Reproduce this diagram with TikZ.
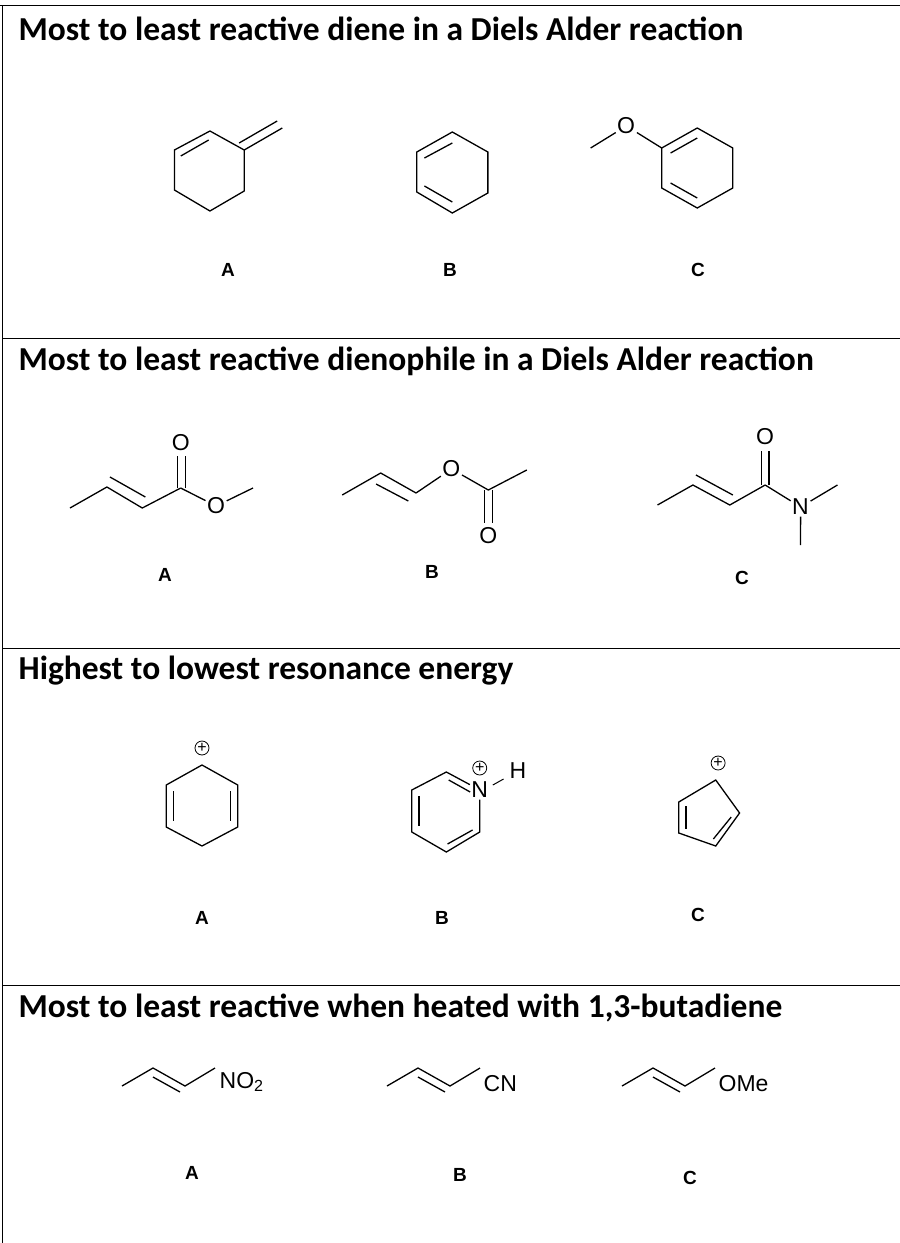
\documentclass[tikz,border=0pt]{standalone}
\usepackage{fontspec}
\setmainfont{Liberation Sans}
\newfontfamily\titlefont{Carlito}
\begin{document}
\begin{tikzpicture}[x=1pt,y=-1pt,line width=1.3pt,
  ttl/.style={anchor=west,font=\titlefont\bfseries\fontsize{33.5}{36}\selectfont,inner sep=0},
  lab/.style={font=\bfseries\fontsize{19}{22}\selectfont,inner sep=0},
  atom/.style={font=\fontsize{23}{26}\selectfont,inner sep=1pt},
  chg/.style={circle,draw,line width=0.8pt,inner sep=0.3pt,font=\fontsize{16}{16}\selectfont}]
\useasboundingbox (0,0) rectangle (900,1243);
\draw[line width=0.8pt] (0,5) -- (900,5);
\draw[line width=0.8pt] (2,5) -- (2,1243);
\foreach \y in {338,648,985} \draw[line width=0.8pt] (2,\y) -- (900,\y);
\node[ttl] (t1) at (18,29) {Most to least reactive diene in a Diels Alder reaction};
\node[ttl] (t2) at (18,361) {Most to least reactive dienophile in a Diels Alder reaction};
\node[ttl] (t3) at (18,671) {Highest to lowest resonance energy};
\node[ttl] (t4) at (18,1008) {Most to least reactive when heated with 1,3-butadiene};
\begin{scope}[xshift=-34.97pt,xscale=1.269]
% diene A
\draw (193,131)--(220,150)--(220,191)--(193,211)--(165,190)--(165,150)--cycle;
\draw (170,156)--(192,140);
\draw (220,150)--(250,128); \draw (216,143)--(246,121);
% diene B
\draw (384,132)--(412,152)--(412,193)--(384,213)--(356,192)--(356,152)--cycle;
\draw (362,158)--(384,143); \draw (362,186)--(384,202);
% diene C
\draw (577,128)--(605,148)--(605,188)--(577,208)--(549,188)--(549,148)--cycle;
\draw (556,153)--(577,138); \draw (556,183)--(577,198);
\node[atom] (o1) at (521,126) {O};
\draw (549,148)--(o1); \draw (o1)--(493,148);
\end{scope}
\node[lab] (la1) at (228,270) {A}; \node[lab] (lb1) at (450,270) {B}; \node[lab] (lc1) at (698,270) {C};
\begin{scope}[xshift=-26.9pt,xscale=1.538]
% dienophile A
\draw (63,508)--(87,487)--(110,508)--(135,488);
\draw (89,477)--(112,497);
\node[atom] (o2) at (135,443) {O}; \node[atom] (o3) at (158,506) {O};
\draw (133,488)--(133,456); \draw (138,488)--(138,456);
\draw (135,488)--(o3)--(182,488);
% dienophile B
\draw (240,495)--(265,473)--(288,493);
\draw (262,484)--(283,501);
\node[atom] (o4) at (311,469) {O}; \node[atom] (o5) at (335,536) {O};
\draw (288,493)--(o4)--(335,490)--(360,470);
\draw (332.5,490)--(332.5,523); \draw (337.5,490)--(337.5,523);
% dienophile C
\draw (445,505)--(468,485)--(492,505)--(515,485);
\draw (470,475)--(494,495);
\node[atom] (o6) at (515,437) {O}; \node[atom] (n1) at (538,507) {N};
\draw (512.5,485)--(512.5,451); \draw (517.5,485)--(517.5,451);
\draw (515,485)--(n1)--(562,485); \draw (n1)--(538,545);
\end{scope}
\node[lab] (la2) at (165,575) {A}; \node[lab] (lb2) at (432,572) {B}; \node[lab] (lc2) at (742,578) {C};
\begin{scope}[xshift=-26.88pt,xscale=1.192]
% resonance A
\draw (192,765)--(222,785)--(222,827)--(192,846)--(162,827)--(162,785)--cycle;
\draw (168,791)--(168,821); \draw (216,791)--(216,821);
\node[chg] (p1) at (192,748) {+};
% resonance B
\node[atom] (n2) at (425,790) {N};
\draw (n2)--(397,772)--(368,790)--(368,832)--(397,852)--(425,832)--(n2);
\draw (399,780)--(417,792); \draw (374,796)--(374,826); \draw (398,844)--(419,830);
\node[chg] (p2) at (425,768) {+};
\node[atom] (h1) at (457,771) {H};
\draw[line width=1pt] (436,785)--(445,779);
% resonance C
\draw (623,780)--(643,813)--(623,846)--(592,833)--(592,802)--cycle;
\draw (598,806)--(598,829); \draw (636,817)--(621,839);
\node[chg] (p3) at (625,763) {+};
\end{scope}
\node[lab] (la3) at (202,918) {A}; \node[lab] (lb3) at (442,918) {B}; \node[lab] (lc3) at (698,915) {C};
% section 4
\draw (122,1086)--(153,1068)--(185,1086)--(215,1068);
\draw (153,1077)--(180,1092);
\node[atom,anchor=west] (no2) at (218,1082) {NO\textsubscript{2}};
\draw (387,1086)--(418,1068)--(450,1086)--(480,1068);
\draw (418,1077)--(445,1092);
\node[atom,anchor=west] (cn) at (482,1084) {CN};
\draw (622,1086)--(653,1068)--(685,1086)--(715,1068);
\draw (653,1077)--(680,1092);
\node[atom,anchor=west] (ome) at (717,1084) {OMe};
\node[lab] (la4) at (192,1173) {A}; \node[lab] (lb4) at (460,1175) {B}; \node[lab] (lc4) at (690,1178) {C};
\end{tikzpicture}
\end{document}
